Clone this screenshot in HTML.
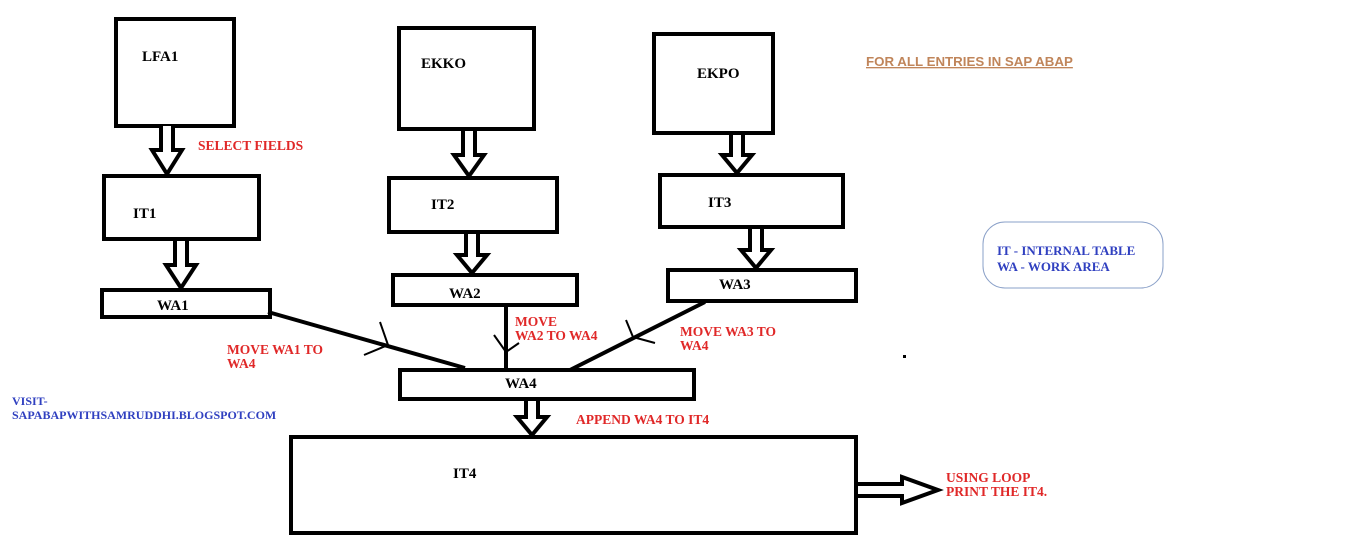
<!DOCTYPE html>
<html><head><style>body{margin:0;background:#fff}svg{display:block}</style></head><body>
<svg width="1353" height="545" viewBox="0 0 1353 545" xmlns="http://www.w3.org/2000/svg">
<g fill="none" stroke="#000" stroke-width="4">
<rect x="116" y="19" width="118" height="107"/>
<rect x="399" y="28" width="135" height="101"/>
<rect x="654" y="34" width="119" height="99"/>
<rect x="104" y="176" width="155" height="63"/>
<rect x="389" y="178" width="168" height="54"/>
<rect x="660" y="175" width="183" height="52"/>
<rect x="102" y="290" width="168" height="27"/>
<rect x="393" y="275" width="184" height="30"/>
<rect x="668" y="270" width="188" height="31"/>
<rect x="400" y="370" width="294" height="29"/>
<rect x="291" y="437" width="565" height="96"/>
</g>
<g fill="#fff" stroke="#000" stroke-width="4" stroke-linejoin="miter">
<path d="M161,126 V150 H152 L167,174 L182,150 H173 V126"/>
<path d="M175,241 V265 H166 L181,288 L196,265 H187 V241"/>
<path d="M463,131 V155 H454 L469,176 L484,155 H475 V131"/>
<path d="M466,234 V255 H457 L472,273 L487,255 H478 V234"/>
<path d="M731,135 V155 H722 L737,173 L752,155 H743 V135"/>
<path d="M750,229 V250 H741 L756,268 L771,250 H762 V229"/>
<path d="M526,401 V417 H517 L532,435 L547,417 H538 V401"/>
<path d="M858,484 H902 V477 L938,490 L902,503 V496 H858"/>
</g>
<g stroke="#000" stroke-width="4" fill="none">
<line x1="268" y1="312" x2="465" y2="368"/>
<line x1="506" y1="305" x2="506" y2="372"/>
<line x1="705" y1="302" x2="570" y2="370"/>
</g>
<g stroke="#000" stroke-width="2" fill="none">
<path d="M380,322 L388,345 L364,355"/>
<path d="M494,335 L506,352 L519,343"/>
<path d="M626,320 L633,337 L655,343"/>
</g>
<rect x="903" y="355" width="3" height="3" fill="#000"/>
<rect x="983" y="222" width="180" height="66" rx="22" fill="none" stroke="#8aa0c8" stroke-width="1"/>
<g font-family="Liberation Serif, serif" font-weight="bold" fill="#000" font-size="15">
<text x="142" y="61">LFA1</text>
<text x="421" y="68">EKKO</text>
<text x="697" y="78">EKPO</text>
<text x="133" y="218">IT1</text>
<text x="431" y="209">IT2</text>
<text x="708" y="207">IT3</text>
<text x="157" y="310">WA1</text>
<text x="449" y="298">WA2</text>
<text x="719" y="289">WA3</text>
<text x="505" y="388">WA4</text>
<text x="453" y="478">IT4</text>
</g>
<g font-family="Liberation Serif, serif" font-weight="bold" fill="#e02828" font-size="13.5">
<text x="198" y="150">SELECT FIELDS</text>
<text x="227" y="354">MOVE WA1 TO</text>
<text x="227" y="368">WA4</text>
<text x="515" y="326">MOVE</text>
<text x="515" y="340">WA2 TO WA4</text>
<text x="680" y="336">MOVE WA3 TO</text>
<text x="680" y="350">WA4</text>
<text x="576" y="424">APPEND WA4 TO IT4</text>
<text x="946" y="482">USING LOOP</text>
<text x="946" y="496">PRINT THE IT4.</text>
</g>
<g font-family="Liberation Serif, serif" font-weight="bold" fill="#3040c0" font-size="13" xml:space="preserve">
<text x="997" y="255">IT -  INTERNAL TABLE</text>
<text x="997" y="271">WA - WORK AREA</text>
</g>
<g font-family="Liberation Serif, serif" font-weight="bold" fill="#3040c0" font-size="12">
<text x="12" y="405">VISIT-</text>
<text x="12" y="419">SAPABAPWITHSAMRUDDHI.BLOGSPOT.COM</text>
</g>
<text x="866" y="66" font-family="Liberation Sans, sans-serif" font-weight="bold" font-size="13.3" fill="#c0855a" text-decoration="underline">FOR ALL ENTRIES IN SAP ABAP</text>
</svg>
</body></html>
